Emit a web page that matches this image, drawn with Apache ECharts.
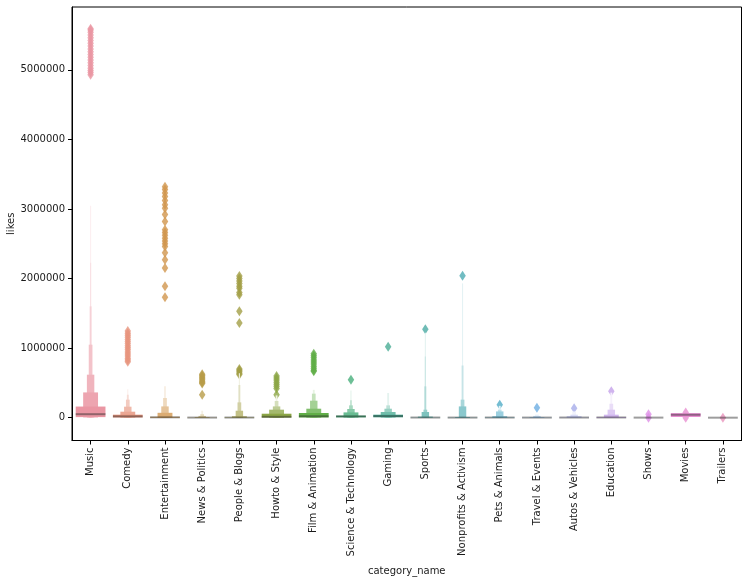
<!DOCTYPE html>
<html>
<head>
<meta charset="utf-8">
<script src="https://cdn.jsdelivr.net/npm/echarts@6/dist/echarts.min.js"></script>
<style>html,body{margin:0;padding:0;background:#fff;}#chart{width:748px;height:584px;}</style>
</head>
<body>
<div id="chart"></div>
<script>
// ---------------- DATA ----------------
const categories = ["Music","Comedy","Entertainment","News & Politics","People & Blogs","Howto & Style","Film & Animation","Science & Technology","Gaming","Sports","Nonprofits & Activism","Pets & Animals","Travel & Events","Autos & Vehicles","Education","Shows","Movies","Trailers"];

const medians = [50000, 18000, 5000, 1500, 2000, 12000, 20000, 18000, 22000, 2000, 1500, 2000, 1500, 2000, 3000, 1000, 42000, 0];

// letter-value boxes, innermost (IQR) first
const boxUpper = [
  [160000, 363000, 618000, 1049000, 1600000, 2227000, 3046000],
  [43000, 86000, 158000, 259000, 330000, 410000],
  [12000, 70000, 162000, 283000, 450000],
  [3000, 10000, 25000, 50000, 100000],
  [6000, 20000, 100000, 220000, 470000, 640000],
  [57000, 115000, 162000, 240000, 320000],
  [67000, 129000, 244000, 345000, 400000],
  [30000, 76000, 125000, 177000, 250000, 392000],
  [43000, 82000, 129000, 177000, 355000],
  [3000, 15000, 82000, 115000, 450000, 880000, 1220000],
  [3000, 10000, 162000, 259000, 750000, 1930000],
  [5000, 20000, 90000, 115000, 170000],
  [3000, 8000, 25000, 45000],
  [4000, 20000, 43000, 90000],
  [10000, 43000, 115000, 200000, 360000],
  [],
  [65000],
  []
];
const boxLower = [
  [8000, 4000, 2000, 1000, 500, 200, 100],
  [3000, 1500, 800, 400, 200, 100],
  [500, 200, 100, 50, 20],
  [200, 100, 50, 20, 10],
  [500, 200, 100, 50, 20, 10],
  [1000, 500, 200, 100, 50],
  [3000, 1500, 800, 400, 200],
  [5000, 2500, 1200, 600, 300, 100],
  [6000, 3000, 1500, 700, 300],
  [200, 100, 50, 20, 10, 5, 2],
  [200, 100, 50, 20, 10, 5],
  [300, 150, 70, 30, 10],
  [200, 100, 50, 20],
  [300, 150, 70, 30],
  [500, 200, 100, 50, 20],
  [],
  [10000],
  []
];

const outliers = [
  [4930000, 4960000, 4990000, 5020000, 5060000, 5100000, 5140000, 5180000, 5220000, 5260000, 5300000, 5340000, 5380000, 5420000, 5460000, 5500000, 5540000, 5570000, 5590000],
  [805000, 830000, 855000, 885000, 915000, 945000, 975000, 1005000, 1035000, 1065000, 1095000, 1125000, 1155000, 1185000, 1215000, 1245000],
  [3320000, 3280000, 3230000, 3180000, 3120000, 3060000, 3010000, 2920000, 2820000, 2700000, 2660000, 2620000, 2580000, 2540000, 2500000, 2460000, 2370000, 2270000, 2150000, 1890000, 1730000],
  [625000, 605000, 585000, 565000, 545000, 525000, 505000, 490000, 330000],
  [2035000, 2000000, 1965000, 1930000, 1890000, 1860000, 1800000, 1765000, 1530000, 1360000, 700000, 680000, 660000, 640000, 620000],
  [600000, 570000, 540000, 510000, 480000, 450000, 420000, 330000],
  [920000, 890000, 860000, 830000, 800000, 770000, 740000, 710000, 680000, 668000],
  [546000],
  [1020000],
  [1270000],
  [2040000],
  [187000],
  [142000],
  [137000],
  [378000],
  [50000, 0],
  [75000, 0],
  [0]
];

const yTicks = [0, 1000000, 2000000, 3000000, 4000000, 5000000];

// ---------------- COLORS (seaborn husl palette, l=.7, desat .75) ----------------
const HM = [[3.2406, -1.5372, -0.4986], [-0.9689, 1.8758, 0.0415], [0.0557, -0.2040, 1.0570]];
const refU = 0.19784, refV = 0.46834, labE = 0.008856, labK = 903.3;
function maxChroma(L, H) {
  const hrad = H * Math.PI / 180, sinH = Math.sin(hrad), cosH = Math.cos(hrad);
  const sub1 = Math.pow(L + 16, 3) / 1560896;
  const sub2 = sub1 > labE ? sub1 : L / labK;
  let result = Infinity;
  for (const row of HM) {
    const m1 = row[0], m2 = row[1], m3 = row[2];
    const top = (0.99915 * m1 + 1.05122 * m2 + 1.14460 * m3) * sub2;
    const rb = 0.86330 * m3 - 0.17266 * m2;
    const lb = 0.12949 * m3 - 0.38848 * m1;
    const bottom = (rb * sinH + lb * cosH) * sub2;
    for (const t of [0, 1]) {
      const C = L * (top - 1.05122 * t) / (bottom + 0.17266 * sinH * t);
      if (C > 0 && C < result) result = C;
    }
  }
  return result;
}
function fromLinear(c) { return c <= 0.0031308 ? 12.92 * c : 1.055 * Math.pow(c, 1 / 2.4) - 0.055; }
function husl2rgb(H, S, L) {
  const C = maxChroma(L, H) / 100 * S;
  const hr = H * Math.PI / 180;
  const U = C * Math.cos(hr), V = C * Math.sin(hr);
  const t = (L + 16) / 116;
  const varY = Math.pow(t, 3) > labE ? Math.pow(t, 3) : (116 * t - 16) / labK;
  const varU = U / (13 * L) + refU, varV = V / (13 * L) + refV;
  const Y = varY;
  const X = 0 - (9 * Y * varU) / ((varU - 4) * varV - varU * varV);
  const Z = (9 * Y - 15 * varV * Y - varV * X) / (3 * varV);
  return HM.map(r => Math.min(1, Math.max(0, fromLinear(r[0] * X + r[1] * Y + r[2] * Z))));
}
function rgb2hls(r, g, b) {
  const maxc = Math.max(r, g, b), minc = Math.min(r, g, b);
  const l = (maxc + minc) / 2;
  if (maxc === minc) return [0, l, 0];
  const s = l <= 0.5 ? (maxc - minc) / (maxc + minc) : (maxc - minc) / (2 - maxc - minc);
  const rc = (maxc - r) / (maxc - minc), gc = (maxc - g) / (maxc - minc), bc = (maxc - b) / (maxc - minc);
  let h;
  if (r === maxc) h = bc - gc; else if (g === maxc) h = 2 + rc - bc; else h = 4 + gc - rc;
  h = ((h / 6) % 1 + 1) % 1;
  return [h, l, s];
}
function hv(m1, m2, h) {
  h = ((h % 1) + 1) % 1;
  if (h < 1 / 6) return m1 + (m2 - m1) * h * 6;
  if (h < 0.5) return m2;
  if (h < 2 / 3) return m1 + (m2 - m1) * (2 / 3 - h) * 6;
  return m1;
}
function hls2rgb(h, l, s) {
  if (s === 0) return [l, l, l];
  const m2 = l <= 0.5 ? l * (1 + s) : l + s - l * s;
  const m1 = 2 * l - m2;
  return [hv(m1, m2, h + 1 / 3), hv(m1, m2, h), hv(m1, m2, h - 1 / 3)];
}
const N = categories.length;
const baseColors = [];
for (let k = 0; k < N; k++) {
  const h = ((k / N) + 0.01) % 1 * 359;
  const rgb = husl2rgb(h, 0.9 * 99, 0.7 * 99);
  const hls = rgb2hls(rgb[0], rgb[1], rgb[2]);
  baseColors.push(hls2rgb(hls[0], hls[1], hls[2] * 0.75));
}
function toCss(c) { return 'rgb(' + c.map(v => Math.round(v * 255)).join(',') + ')'; }
function mix(a, b, t) { return a.map((v, i) => v + (b[i] - v) * t); }
function boxColor(cat, lev, n) {
  const base = baseColors[cat];
  const light = mix(base, [1, 1, 1], 0.85);
  const v = n > 1 ? lev / (n - 1) : 0;
  return toCss(mix(base, light, v));
}

// ---------------- SERIES DATA ----------------
const boxData = [];
for (let i = 0; i < N; i++) {
  const n = boxUpper[i].length;
  for (let lev = n - 1; lev >= 0; lev--) {
    boxData.push([i, boxLower[i][lev], boxUpper[i][lev], lev, n]);
  }
}
const outlierData = [];
for (let i = 0; i < N; i++) {
  for (const v of outliers[i]) outlierData.push({ value: [i, v], itemStyle: { color: toCss(baseColors[i]) } });
}
const medianData = medians.map((m, i) => [i, m]);

const textColor = '#1a1a1a';
const font = 'DejaVu Sans';

const chart = echarts.init(document.getElementById('chart'), null, { renderer: 'canvas' });
chart.setOption({
  animation: false,
  backgroundColor: '#fff',
  grid: { left: 72, right: 6.5, top: 7, bottom: 143.5, show: true, borderColor: '#000', borderWidth: 1, backgroundColor: 'transparent', containLabel: false, outerBoundsMode: 'none' },
  xAxis: {
    type: 'category', data: categories, boundaryGap: true,
    axisLine: { show: true, onZero: false, lineStyle: { color: '#000', width: 1 } },
    axisTick: { show: true, alignWithLabel: true, length: 4, lineStyle: { color: '#000' } },
    axisLabel: { rotate: 90, margin: 7, interval: 0, color: textColor, fontSize: 10, fontFamily: font },
    splitLine: { show: false },
    name: 'category_name', nameLocation: 'middle', nameGap: 126,
    nameTextStyle: { color: textColor, fontSize: 10, fontFamily: font }
  },
  yAxis: {
    type: 'value', min: -328000, max: 5902000,
    axisLine: { show: true, lineStyle: { color: '#000', width: 1 } },
    axisTick: { show: true, length: 4, customValues: yTicks, lineStyle: { color: '#000' } },
    axisLabel: { customValues: yTicks, margin: 7, color: textColor, fontSize: 10, fontFamily: font, formatter: v => String(v) },
    splitLine: { show: false },
    name: 'likes', nameLocation: 'middle', nameGap: 56, nameRotate: 90, nameMoveOverlap: false,
    nameTextStyle: { color: textColor, fontSize: 10, fontFamily: font }
  },
  series: [
    {
      type: 'scatter', data: outlierData, symbol: 'diamond', symbolSize: [6.5, 10], z: 1,
      silent: true
    },
    {
      type: 'custom', data: boxData, z: 2, silent: true,
      encode: { x: 0, y: [1, 2] },
      renderItem: function (params, api) {
        const i = api.value(0), lo = api.value(1), hi = api.value(2), lev = api.value(3), n = api.value(4);
        const pTop = api.coord([i, hi]);
        const pBot = api.coord([i, lo]);
        const bw = Math.max(1.1, api.size([1, 0])[0] * 0.8 * Math.pow(0.5, lev));
        return {
          type: 'rect',
          shape: { x: pTop[0] - bw / 2, y: pTop[1], width: bw, height: pBot[1] - pTop[1] },
          style: { fill: boxColor(i, lev, n) }
        };
      }
    },
    {
      type: 'custom', data: medianData, z: 3, silent: true,
      encode: { x: 0, y: 1 },
      renderItem: function (params, api) {
        const p = api.coord([api.value(0), api.value(1)]);
        const w = api.size([1, 0])[0] * 0.8;
        return {
          type: 'line',
          shape: { x1: p[0] - w / 2, y1: p[1], x2: p[0] + w / 2, y2: p[1] },
          style: { stroke: 'rgba(38,38,38,0.45)', lineWidth: 2 }
        };
      }
    }
  ]
});
</script>
</body>
</html>
